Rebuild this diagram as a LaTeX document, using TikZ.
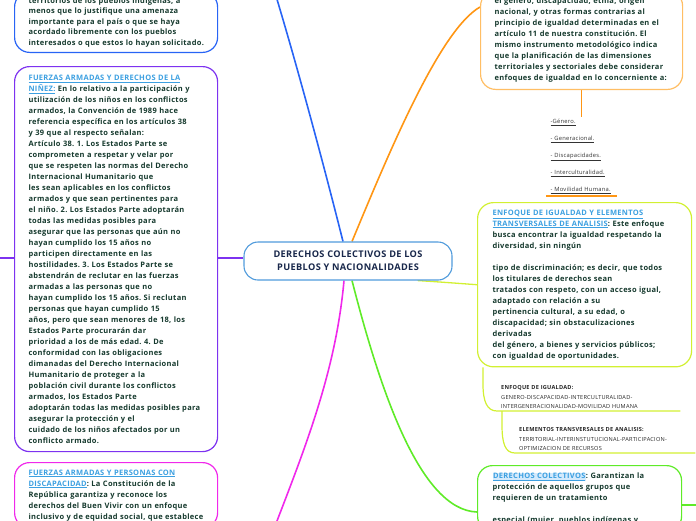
\documentclass[tikz,border=0pt]{standalone}
\usepackage{fontspec}
\setmainfont{Open Sans}[LetterSpace=4]
\usetikzlibrary{positioning}
\definecolor{txtgreen}{RGB}{22,58,46}
\definecolor{linkblue}{RGB}{60,160,225}
\definecolor{hiblue}{RGB}{212,234,252}
\definecolor{brblue}{RGB}{40,100,245}
\definecolor{brpurple}{RGB}{125,50,240}
\definecolor{brmagenta}{RGB}{240,40,235}
\definecolor{brgreen}{RGB}{95,235,40}
\definecolor{brlime}{RGB}{210,240,50}
\definecolor{brorange}{RGB}{255,150,20}
\definecolor{boxorange}{RGB}{255,190,100}
\definecolor{rootblue}{RGB}{80,155,220}
\definecolor{rootnavy}{RGB}{25,40,75}
\pgfdeclarelayer{background}
\pgfsetlayers{background,main}
\hyphenpenalty=10000
\exhyphenpenalty=10000
\frenchspacing
\newcommand{\lnk}[1]{\textcolor{linkblue}{\underline{#1}}}
\newcommand{\hlnk}[1]{{\setlength{\fboxsep}{0.5pt}\colorbox{hiblue}{\textcolor{linkblue}{\underline{#1}}}}}

\begin{document}
\begin{tikzpicture}[x=1pt, y=-1pt, font=\fontsize{7.5}{11}\selectfont\bfseries]
\tikzset{topic/.style={draw, fill=white, rounded corners=15pt, line width=1.2pt, align=left, inner xsep=14pt, inner ysep=7pt, text=txtgreen},
  branch/.style={line width=1.6pt},
  leaf/.style={align=left, inner xsep=4pt, inner ysep=2pt, text=black!85, font=\fontsize{5.6}{9.5}\selectfont}}
\useasboundingbox (0,0) rectangle (696,520);
\clip (0,0) rectangle (696,520);

% centro
\node[draw=rootblue, fill=white, rounded corners=14pt, line width=1.1pt, minimum width=208pt, minimum height=38pt, align=center, text=rootnavy, font=\fontsize{9.2}{13}\selectfont\bfseries] (root) at (348,261) {DERECHOS COLECTIVOS DE LOS\\PUEBLOS Y NACIONALIDADES};

% izquierda
\node[topic, draw=brblue, text width=175pt, inner ysep=5.5pt, font=\fontsize{7.5}{10.5}\selectfont\bfseries, anchor=south west] (territorios) at (14,53) {territorios de los pueblos indígenas, a\\menos que lo justifique una amenaza\\importante para el país o que se haya\\acordado libremente con los pueblos\\interesados o que estos lo hayan solicitado.};
\node[topic, draw=brpurple, text width=175pt, minimum height=385pt, anchor=north west] (ninez) at (14,66) {\lnk{FUERZAS ARMADAS Y DERECHOS DE LA}\\\lnk{NIÑEZ:} En lo relativo a la participación y\\utilización de los niños en los conflictos\\armados, la Convención de 1989 hace\\referencia específica en los artículos 38\\y 39 que al respecto señalan:\\Artículo 38. 1. Los Estados Parte se\\comprometen a respetar y velar por\\que se respeten las normas del Derecho\\Internacional Humanitario que\\les sean aplicables en los conflictos\\armados y que sean pertinentes para\\el niño. 2. Los Estados Parte adoptarán\\todas las medidas posibles para\\asegurar que las personas que aún no\\hayan cumplido los 15 años no\\participen directamente en las\\hostilidades. 3. Los Estados Parte se\\abstendrán de reclutar en las fuerzas\\armadas a las personas que no\\hayan cumplido los 15 años. Si reclutan\\personas que hayan cumplido 15\\años, pero que sean menores de 18, los\\Estados Parte procurarán dar\\prioridad a los de más edad. 4. De\\conformidad con las obligaciones\\dimanadas del Derecho Internacional\\Humanitario de proteger a la\\población civil durante los conflictos\\armados, los Estados Parte\\adoptarán todas las medidas posibles para\\asegurar la protección y el\\cuidado de los niños afectados por un\\conflicto armado.};
\node[topic, draw=brmagenta, text width=175pt, anchor=north west] (discapacidad) at (14,462) {\lnk{FUERZAS ARMADAS Y PERSONAS CON}\\\lnk{DISCAPACIDAD}: La Constitución de la\\República garantiza y reconoce los\\derechos del Buen Vivir con un enfoque\\inclusivo y de equidad social, que establece};

% derecha
\node[topic, draw=boxorange, text width=174pt, anchor=south west] (igualdad) at (480,90) {el género, discapacidad, etnia, origen\\nacional, y otras formas contrarias al\\principio de igualdad determinadas en el\\artículo 11 de nuestra constitución. El\\mismo instrumento metodológico indica\\que la planificación de las dimensiones\\territoriales y sectoriales debe considerar\\enfoques de igualdad en lo concerniente a:};
\node[leaf, text width=62pt, below=27pt of igualdad, font=\fontsize{5.8}{17}\selectfont, text=black!80] (enfoques) {\underline{-Género.}\\\underline{- Generacional.}\\\underline{- Discapacidades.}\\\underline{- Interculturalidad.}\\\underline{- Movilidad Humana.}};
\node[topic, draw=brlime, rounded corners=16pt, text width=184pt, inner xsep=15pt, minimum height=164pt, anchor=north west] (enfoque) at (477,202) {\lnk{ENFOQUE DE IGUALDAD Y ELEMENTOS}\\\lnk{TRANSVERSALES DE ANALISIS}: Este enfoque\\busca encontrar la igualdad respetando la\\diversidad, sin ningún\\[11pt]tipo de discriminación; es decir, que todos\\los titulares de derechos sean\\tratados con respeto, con un acceso igual,\\adaptado con relación a su\\pertinencia cultural, a su edad, o\\discapacidad; sin obstaculizaciones\\derivadas\\del género, a bienes y servicios públicos;\\con igualdad de oportunidades.};
\node[leaf, text width=175pt, anchor=south west] (igualdadleaf) at (497,411) {\textbf{ENFOQUE DE IGUALDAD:}\\GENERO-DISCAPACIDAD-INTERCULTURALIDAD-\\INTERGENERACIONALIDAD-MOVILIDAD HUMANA};
\node[leaf, text width=172pt, anchor=south west] (transversales) at (515,453) {\textbf{ELEMENTOS TRANSVERSALES DE ANALISIS:}\\TERRITORIAL-INTERINSTUTUCIONAL-PARTICIPACION-\\OPTIMIZACION DE RECURSOS};
\node[topic, draw=brgreen, text width=174pt, inner xsep=15pt, anchor=north west] (colectivos) at (477,465) {\hlnk{DERECHOS COLECTIVOS}: Garantizan la\\protección de aquellos grupos que\\requieren de un tratamiento\\[11pt]especial (mujer, pueblos indígenas y};
\draw[brorange, line width=1.2pt] (enfoques.south west) -- (enfoques.south east);

% ramas
\begin{pgfonlayer}{background}
\coordinate (blueend) at (268,-30);
\coordinate (purpleend) at (0,258);
\coordinate (magentaend) at (262,560);
\coordinate (greenend) at (700,505);
\draw[branch, brblue] ([xshift=-5pt]root.north) .. controls (320,150) and (290,40) .. (blueend);
\draw[branch, brorange] ([xshift=4pt]root.north) .. controls (390,150) and (440,30) .. ([yshift=83pt]igualdad.south west);
\draw[branch, brpurple, line width=1.3pt] ([yshift=3pt]root.west) -- (purpleend);
\draw[branch, brlime, line width=1.3pt] ([xshift=-35pt]root.south east) .. controls (440,282) .. (enfoque.west);
\draw[branch, brgreen] ([xshift=4pt]root.south) .. controls (380,390) and (420,510) .. ([yshift=-47pt]colectivos.north west);
\draw[branch, brmagenta] ([xshift=-4pt]root.south) .. controls (335,380) and (300,460) .. (magentaend);
\draw[brgreen, line width=1.2pt] ([yshift=-40pt]colectivos.north east) -- (greenend);
\draw[brorange, line width=1.2pt] (igualdad.south) -- (enfoques.north);
\draw[brlime, line width=1.2pt] ([xshift=6pt]enfoque.south west) -- ++(0,17) .. controls +(0,17) and +(-10,0) .. (igualdadleaf.south west) -- (igualdadleaf.south east);
\draw[brlime, line width=1.2pt] ([xshift=5pt]igualdadleaf.south west) -- ++(0,14) .. controls +(0,18) and +(-10,0) .. (transversales.south west) -- (transversales.south east);
\end{pgfonlayer}
\end{tikzpicture}
\end{document}
